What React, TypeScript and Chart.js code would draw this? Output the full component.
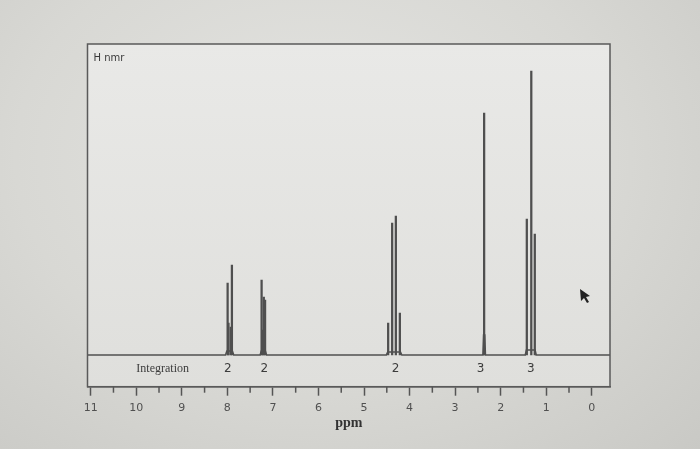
import React, { useEffect, useRef } from "react";
import { Chart, registerables } from "chart.js";

Chart.register(...registerables);

// Peak lines (ppm, relative intensity)
const peakPpm = [7.994, 7.975, 7.925, 7.9, 7.248, 7.225, 7.2, 7.172, 4.47, 4.382, 4.301, 4.213, 2.363, 1.426, 1.328, 1.251];
const peakHeight = [72, 32, 28, 90, 75, 25, 58, 55, 32, 132, 139, 42, 242, 136, 284, 121];

// Baseline trace with small multiplet feet
const baselinePpm = [11.07, 8.04, 8.01, 7.89, 7.86, 7.28, 7.255, 7.165, 7.14, 4.51, 4.48, 4.2, 4.17, 2.39, 2.375, 2.35, 2.335, 1.46, 1.435, 1.245, 1.22, -0.4];
const baselineVal = [0, 0, 4, 4, 0, 0, 4, 4, 0, 0, 3, 3, 0, 0, 20, 20, 0, 0, 5, 5, 0, 0];

// Axis ticks
const majorTicks = [11, 10, 9, 8, 7, 6, 5, 4, 3, 2, 1, 0];
const minorTicks = [10.5, 9.5, 8.5, 7.5, 6.5, 5.5, 4.5, 3.5, 2.5, 1.5, 0.5];

// Integration labels
const integrationPpm = [7.99, 7.19, 4.31, 2.44, 1.34];
const integrationLabels = ["2", "2", "2", "3", "3"];
const integrationTitle = "Integration";
const integrationTitlePpm = 9.42;
const chartTitle = "H nmr";

const decorPlugin = {
  id: "decor",
  beforeDraw(chart: any) {
    const { ctx, chartArea: a } = chart;
    ctx.save();
    const g = ctx.createLinearGradient(0, a.top, 0, a.bottom);
    g.addColorStop(0, "#e9e9e7");
    g.addColorStop(1, "#dfdfdc");
    ctx.fillStyle = g;
    ctx.fillRect(a.left, a.top, a.right - a.left, a.bottom - a.top);
    ctx.restore();
  },
  afterDraw(chart: any) {
    const { ctx, chartArea: a, scales } = chart;
    const x = scales.x;
    const y = scales.y;
    ctx.save();
    // box
    ctx.strokeStyle = "#5a5a5a";
    ctx.lineWidth = 1.5;
    ctx.strokeRect(a.left, a.top, a.right - a.left, a.bottom - a.top);
    // minor ticks
    ctx.lineWidth = 1.5;
    ctx.strokeStyle = "#555";
    minorTicks.forEach((v) => {
      const px = x.getPixelForValue(v);
      ctx.beginPath();
      ctx.moveTo(px, a.bottom);
      ctx.lineTo(px, a.bottom + 6);
      ctx.stroke();
    });
    // title
    ctx.fillStyle = "#3a3a3a";
    ctx.font = "10px 'DejaVu Sans'";
    ctx.textBaseline = "middle";
    ctx.textAlign = "left";
    ctx.fillText(chartTitle, a.left + 6, a.top + 14);
    // integration row
    const iy = y.getPixelForValue(-14);
    ctx.fillStyle = "#3c3c3c";
    ctx.textAlign = "center";
    ctx.font = "12px 'Liberation Serif'";
    ctx.fillText(integrationTitle, x.getPixelForValue(integrationTitlePpm), iy);
    ctx.font = "12px 'DejaVu Sans'";
    integrationPpm.forEach((v, i) => {
      ctx.fillText(integrationLabels[i], x.getPixelForValue(v), iy);
    });
    // mouse pointer seen in the photo
    const cx = 580, cy = 289;
    ctx.fillStyle = "#222";
    ctx.beginPath();
    ctx.moveTo(cx, cy);
    ctx.lineTo(cx + 1, cy + 12);
    ctx.lineTo(cx + 4, cy + 9);
    ctx.lineTo(cx + 7, cy + 14);
    ctx.lineTo(cx + 9, cy + 13);
    ctx.lineTo(cx + 6, cy + 8);
    ctx.lineTo(cx + 10, cy + 7);
    ctx.closePath();
    ctx.fill();
    ctx.restore();
  },
};

export default function App() {
  const ref = useRef<HTMLCanvasElement | null>(null);
  useEffect(() => {
    if (!ref.current) return;
    const chart = new Chart(ref.current, {
      type: "bar",
      data: {
        datasets: [
          {
            type: "bar",
            data: peakPpm.map((p, i) => ({ x: p, y: peakHeight[i] })),
            backgroundColor: "#4f4f4f",
            barThickness: 1.6,
            borderWidth: 0,
          } as any,
          {
            type: "line",
            data: baselinePpm.map((p, i) => ({ x: p, y: baselineVal[i] })),
            borderColor: "#505050",
            borderWidth: 1.6,
            pointRadius: 0,
            tension: 0,
            fill: false,
          } as any,
        ],
      },
      options: {
        animation: false,
        responsive: false,
        devicePixelRatio: 1,
        layout: { padding: { left: 87.5, right: 90, top: 44, bottom: 0 } },
        plugins: { legend: { display: false }, tooltip: { enabled: false } },
        scales: {
          x: {
            type: "linear",
            reverse: true,
            min: -0.4,
            max: 11.07,
            offset: false,
            afterFit: (s: any) => {
              s.height = 62.3;
            },
            afterBuildTicks: (s: any) => {
              s.ticks = majorTicks.map((v) => ({ value: v }));
            },
            ticks: {
              includeBounds: false,
              padding: 6,
              color: "#505050",
              font: { family: "'DejaVu Sans'", size: 11 },
              callback: (v: any) => String(v),
              maxRotation: 0,
              autoSkip: false,
            },
            grid: {
              display: true,
              drawOnChartArea: false,
              drawTicks: true,
              tickLength: 9,
              tickColor: "#555",
              tickWidth: 1.5,
              offset: false,
            },
            border: { display: true, color: "#5a5a5a", width: 1.5 },
            title: {
              display: true,
              text: "ppm",
              color: "#333",
              font: { family: "'Liberation Serif'", size: 14, weight: "bold" },
              padding: { top: 0, bottom: 17 },
            },
          },
          y: {
            display: false,
            min: -31.7,
            max: 311,
          },
        },
      },
      plugins: [decorPlugin],
    });
    return () => chart.destroy();
  }, []);
  return (
    <div
      style={{
        position: "absolute",
        left: 0,
        top: 0,
        width: 700,
        height: 449,
        background:
          "radial-gradient(ellipse at 45% 35%, #e4e4e1 0%, #d8d8d4 55%, #c9c9c5 100%)",
      }}
    >
      <canvas ref={ref} width={700} height={449} style={{ width: 700, height: 449, display: "block" }} />
    </div>
  );
}
